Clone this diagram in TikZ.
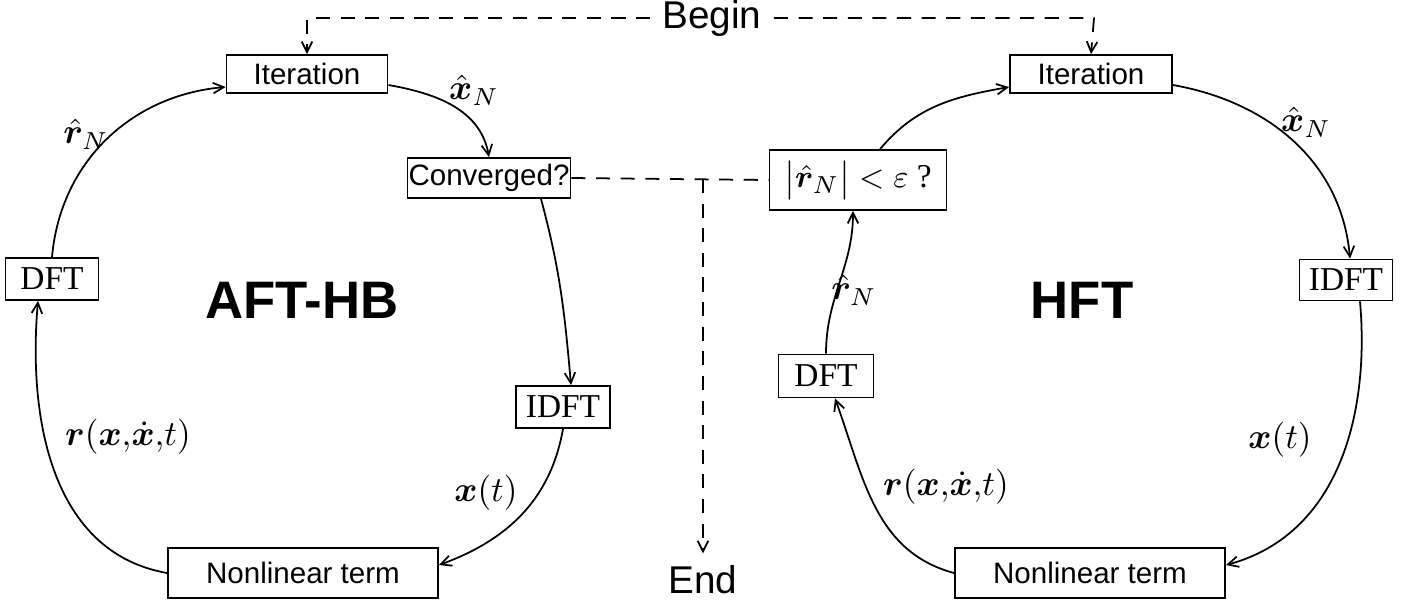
\documentclass[tikz,border=0pt]{standalone}
\usepackage{amsmath,bm}
\usepackage{fontspec}
\setmainfont{Liberation Sans}
\newfontfamily\tms{Liberation Serif}
\usetikzlibrary{arrows.meta,calc}
\begin{document}
\begin{tikzpicture}[x=0.01cm,y=-0.01cm,
  box/.style={draw,line width=0.5pt,inner sep=0pt,font=\fontsize{8.4}{10}\selectfont},
  sbox/.style={box,font=\tms\fontsize{9.5}{11}\selectfont},
  arr/.style={-{Straight Barb[length=3pt,width=3pt]},line width=0.5pt},
  dsh/.style={arr,dashed,dash pattern=on 4pt off 3pt},
  lab/.style={font=\fontsize{10}{12}\selectfont}]
\useasboundingbox (0,0) rectangle (1403,599);
\node (begin) at (712,18) {\fontsize{11}{13}\selectfont Begin};
\node (end) at (703,580) {\fontsize{11}{13}\selectfont End};
\node[box,minimum width=1.61cm,minimum height=0.38cm] (itL) at (307,74) {Iteration};
\node[box,minimum width=1.63cm,minimum height=0.40cm] (conv) at (489,178) {Converged?};
\node[sbox,minimum width=0.93cm,minimum height=0.42cm] (dftL) at (52,279) {DFT};
\node[sbox,minimum width=0.94cm,minimum height=0.42cm] (idftL) at (563,407) {IDFT};
\node[box,minimum width=2.70cm,minimum height=0.50cm] (nlL) at (303,573) {Nonlinear term};
\node[font=\bfseries\fontsize{15}{18}\selectfont] (aft) at (302,300) {AFT-HB};
\node[box,minimum width=1.62cm,minimum height=0.38cm] (itR) at (1091,74) {Iteration};
\node[sbox,minimum width=1.77cm,minimum height=0.60cm] (res) at (858,180) {$\bigl|\hat{\bm r}_N\bigr| < \varepsilon$ ?};
\node[sbox,minimum width=0.93cm,minimum height=0.41cm] (idftR) at (1346,280) {IDFT};
\node[sbox,minimum width=0.95cm,minimum height=0.43cm] (dftR) at (826,376) {DFT};
\node[box,minimum width=2.70cm,minimum height=0.50cm] (nlR) at (1090,573) {Nonlinear term};
\node[font=\bfseries\fontsize{15}{18}\selectfont] (hft) at (1082,300) {HFT};
% dashed
\coordinate (b1) at (307,18); \coordinate (b2) at (1094,18);
\draw[dsh] (begin.west) -- (b1) -- (itL.north);
\draw[dsh] (begin.east) -- (b2) -- (itR.north);
\coordinate (j) at (703,179);
\draw[dashed,dash pattern=on 4pt off 3pt,line width=0.5pt] (conv.east) -- (res.west);
\draw[dsh] (j) -- (end.north);
% left cycle
\draw[arr] ($(itL.east)+(0,11)$) to[out=-10,in=100] (conv.north);
\draw[arr] ($(conv.south)+(52,0)$) to[out=-75,in=95] ($(idftL.north)+(8,0)$);
\draw[arr] (idftL.south) to[out=-100,in=20] ($(nlL.east)+(0,-8)$);
\draw[arr] (nlL.west) to[out=170,in=-95] ($(dftL.south)+(-14,0)$);
\draw[arr] (dftL.north) to[out=85,in=185] ($(itL.west)+(0,13)$);
\node[lab] at (474,90) {$\hat{\bm x}_N$};
\node[lab] at (486,493) {$\bm x(t)$};
\node[lab] at (128,437) {$\bm r(\bm x,\!\dot{\bm x},\!t)$};
\node[lab] at (86,134) {$\hat{\bm r}_N$};
% right cycle
\draw[arr] ($(itR.east)+(0,11)$) to[out=-10,in=95] ($(idftR.north)+(4,0)$);
\draw[arr] ($(idftR.south)+(14,0)$) to[out=-85,in=15] ($(nlR.east)+(0,-8)$);
\draw[arr] (nlR.west) to[out=165,in=-70] ($(dftR.south)+(9,0)$);
\draw[arr] (dftR.north) to[out=90,in=-90] ($(res.south)+(-5,0)$);
\draw[arr] ($(res.north)+(22,0)$) to[out=50,in=190] ($(itR.west)+(0,13)$);
\node[lab] at (1306,122) {$\hat{\bm x}_N$};
\node[lab] at (1280,440) {$\bm x(t)$};
\node[lab] at (946,487) {$\bm r(\bm x,\!\dot{\bm x},\!t)$};
\node[lab] at (854,290) {$\hat{\bm r}_N$};
\end{tikzpicture}
\end{document}
